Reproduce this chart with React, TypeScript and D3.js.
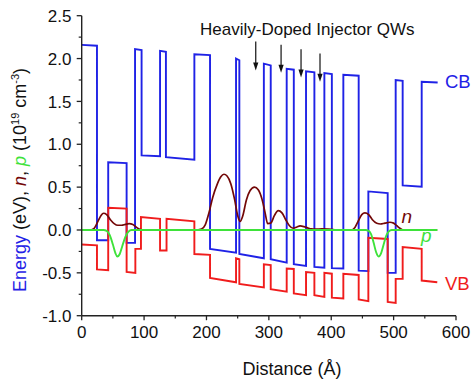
import React from "react";
import * as d3 from "d3";

const cbDistance = [0, 24.5, 24.5, 42.5, 42.5, 72, 72, 85.5, 85.5, 96, 96, 125.6, 125.6, 135, 135, 180.6, 180.6, 205.7, 205.7, 247.4, 247.4, 252.7, 252.7, 292, 292, 303, 303, 328.6, 328.6, 340, 340, 359.6, 359.6, 373, 373, 389, 389, 401, 401, 419.4, 419.4, 444, 444, 459.5, 459.5, 490.5, 490.5, 503.3, 503.3, 514.5, 514.5, 545, 545, 570.6];
const cbEnergy = [2.16, 2.15, -0.12, -0.12, 0.79, 0.78, -0.15, -0.15, 2.11, 2.1, 0.87, 0.86, 2.09, 2.08, 0.85, 0.82, 2.05, 2.04, -0.22, -0.265, 2.0, 1.98, -0.28, -0.33, 1.94, 1.92, -0.34, -0.38, 1.88, 1.87, -0.4, -0.42, 1.85, 1.84, -0.43, -0.44, 1.83, 1.82, -0.445, -0.45, 1.81, 1.8, -0.475, -0.48, 0.45, 0.43, -0.5, -0.5, 1.75, 1.74, 0.52, 0.505, 1.73, 1.72];

const vbDistance = [0, 24.5, 24.5, 42.5, 42.5, 72, 72, 86, 86, 95, 95, 125.6, 125.6, 136, 136, 180.6, 180.6, 205.7, 205.7, 247.4, 247.4, 252.7, 252.7, 292, 292, 303, 303, 328.6, 328.6, 340, 340, 359.6, 359.6, 373, 373, 389, 389, 401, 401, 419.4, 419.4, 444, 444, 459.5, 459.5, 490.5, 490.5, 503.3, 503.3, 514.5, 514.5, 545, 545, 570];
const vbEnergy = [-0.17, -0.18, -0.46, -0.47, 0.26, 0.25, -0.49, -0.5, -0.22, -0.22, 0.15, 0.13, -0.24, -0.24, 0.13, 0.1, -0.28, -0.29, -0.56, -0.61, -0.33, -0.34, -0.63, -0.67, -0.4, -0.41, -0.69, -0.72, -0.45, -0.455, -0.74, -0.76, -0.49, -0.5, -0.76, -0.78, -0.5, -0.51, -0.79, -0.8, -0.51, -0.525, -0.81, -0.83, -0.09, -0.105, -0.84, -0.85, -0.57, -0.57, -0.2, -0.22, -0.59, -0.61];

const nDistance = [0, 14, 20, 26, 31, 35, 40, 46, 52, 58, 64, 70, 76, 82, 88, 94, 100, 185, 192, 198, 204, 210, 217, 223, 228, 233, 239, 245, 250, 254, 258, 264, 270, 277, 283, 289, 294, 298, 303, 309, 315, 321, 327, 333, 339, 345, 350, 356, 362, 368, 375, 385, 395, 403, 410, 432, 438, 443, 449, 454, 460, 466, 473, 479, 486, 494, 500, 505, 510, 515, 570];
const nDensity = [0, 0, 0.02, 0.1, 0.17, 0.195, 0.18, 0.12, 0.075, 0.055, 0.055, 0.065, 0.075, 0.065, 0.03, 0.005, 0, 0, 0.01, 0.06, 0.2, 0.38, 0.53, 0.62, 0.65, 0.63, 0.54, 0.36, 0.17, 0.1, 0.16, 0.35, 0.46, 0.5, 0.47, 0.36, 0.2, 0.075, 0.08, 0.17, 0.225, 0.2, 0.12, 0.05, 0.02, 0.035, 0.047, 0.04, 0.025, 0.012, 0.01, 0.012, 0.01, 0.005, 0, 0, 0.03, 0.1, 0.18, 0.2, 0.18, 0.12, 0.078, 0.07, 0.08, 0.09, 0.08, 0.05, 0.02, 0, 0];

const pDistance = [0, 35, 40, 45, 50, 54, 57, 61, 65, 70, 75, 80, 455, 460, 464, 468, 472, 476, 480, 484, 488, 492, 497, 570];
const pDensity = [0, 0, -0.01, -0.06, -0.17, -0.27, -0.31, -0.28, -0.19, -0.08, -0.02, 0, 0, -0.01, -0.05, -0.15, -0.26, -0.31, -0.27, -0.17, -0.07, -0.02, 0, 0];

const xTicks = [0, 100, 200, 300, 400, 500, 600];
const yTicks = [-1.0, -0.5, 0.0, 0.5, 1.0, 1.5, 2.0, 2.5];

const arrowX = [279, 319.6, 351.6, 382];
const arrowTop = [2.2, 2.16, 2.11, 2.06];
const arrowBottom = [1.86, 1.835, 1.78, 1.73];

const FONT = "'Liberation Sans', Arial, Helvetica, sans-serif";
const BLUE = "#1f22e6";
const RED = "#f01c1c";
const DARKRED = "#730808";
const GREEN = "#3ee23a";

export default function App() {
  const x = d3.scaleLinear().domain([0, 600]).range([81.7, 456]);
  const y = d3.scaleLinear().domain([-1, 2.5]).range([315.7, 15.7]);

  const lin = d3.line<[number, number]>().x((d) => x(d[0])).y((d) => y(d[1]));
  const smooth = d3
    .line<[number, number]>()
    .x((d) => x(d[0]))
    .y((d) => y(d[1]))
    .curve(d3.curveMonotoneX);

  const zip = (a: number[], b: number[]) => a.map((v, i) => [v, b[i]] as [number, number]);

  const xMinor = d3.range(50, 600, 100);
  const yMinor = d3.range(-0.75, 2.5, 0.5);

  return (
    <svg width={474} height={381} style={{ position: "absolute", left: 0, top: 0, background: "#fff" }} fontFamily={FONT}>
      {/* curves */}
      <path d={lin(zip(cbDistance, cbEnergy)) || ""} fill="none" stroke={BLUE} strokeWidth={1.9} strokeLinejoin="miter" />
      <path d={lin(zip(vbDistance, vbEnergy)) || ""} fill="none" stroke={RED} strokeWidth={1.9} />
      <path d={smooth(zip(nDistance, nDensity)) || ""} fill="none" stroke={DARKRED} strokeWidth={1.7} />
      <path d={smooth(zip(pDistance, pDensity)) || ""} fill="none" stroke={GREEN} strokeWidth={1.9} />

      {/* axes */}
      <line x1={x(0)} x2={x(600)} y1={y(-1)} y2={y(-1)} stroke="#222" strokeWidth={1.4} />
      <line x1={x(0)} x2={x(0)} y1={y(-1)} y2={y(2.5)} stroke="#222" strokeWidth={1.4} />
      {xTicks.map((t) => (
        <g key={"xt" + t}>
          <line x1={x(t)} x2={x(t)} y1={y(-1)} y2={y(-1) + 4.5} stroke="#222" strokeWidth={1.3} />
          <text x={x(t)} y={337.7} fontSize={17} textAnchor="middle" fill="#111">{t}</text>
        </g>
      ))}
      {xMinor.map((t) => (
        <line key={"xm" + t} x1={x(t)} x2={x(t)} y1={y(-1)} y2={y(-1) + 2.8} stroke="#222" strokeWidth={1.2} />
      ))}
      {yTicks.map((t) => (
        <g key={"yt" + t}>
          <line x1={x(0) - 5} x2={x(0)} y1={y(t)} y2={y(t)} stroke="#222" strokeWidth={1.3} />
          <text x={71.5} y={y(t)} dy="0.36em" fontSize={17} textAnchor="end" fill="#111">{t.toFixed(1)}</text>
        </g>
      ))}
      {yMinor.map((t) => (
        <line key={"ym" + t} x1={x(0) - 3} x2={x(0)} y1={y(t)} y2={y(t)} stroke="#222" strokeWidth={1.2} />
      ))}

      {/* axis titles */}
      <text x={292} y={375} fontSize={18} textAnchor="middle" fill="#111">Distance (Å)</text>
      <text transform="translate(25.5,180) rotate(-90)" fontSize={18} textAnchor="middle" fill="#111">
        <tspan fill={BLUE}>Energy</tspan>
        <tspan> (eV), </tspan>
        <tspan fill={DARKRED} fontStyle="italic">n</tspan>
        <tspan>, </tspan>
        <tspan fill={GREEN} fontStyle="italic">p</tspan>
        <tspan> (10</tspan>
        <tspan fontSize={11} dy={-7}>19</tspan>
        <tspan dy={7}> cm</tspan>
        <tspan fontSize={11} dy={-7}>-3</tspan>
        <tspan dy={7}>)</tspan>
      </text>

      {/* annotations */}
      <text x={200} y={35} fontSize={17} fill="#111">Heavily-Doped Injector QWs</text>
      {arrowX.map((ax, i) => {
        const xp = x(ax);
        const yt = y(arrowTop[i]);
        const yb = y(arrowBottom[i]);
        return (
          <g key={"ar" + i}>
            <line x1={xp} x2={xp} y1={yt} y2={yb - 6} stroke="#111" strokeWidth={1.2} />
            <path d={`M${xp - 2.6},${yb - 8} L${xp + 2.6},${yb - 8} L${xp},${yb} Z`} fill="#111" />
          </g>
        );
      })}
      <text x={445} y={88.3} fontSize={18.5} fill={BLUE}>CB</text>
      <text x={445} y={290} fontSize={18.5} fill={RED}>VB</text>
      <text x={401.5} y={222.5} fontSize={19} fontStyle="italic" fill={DARKRED}>n</text>
      <text x={421} y={241.5} fontSize={19} fontStyle="italic" fill={GREEN}>p</text>
    </svg>
  );
}
